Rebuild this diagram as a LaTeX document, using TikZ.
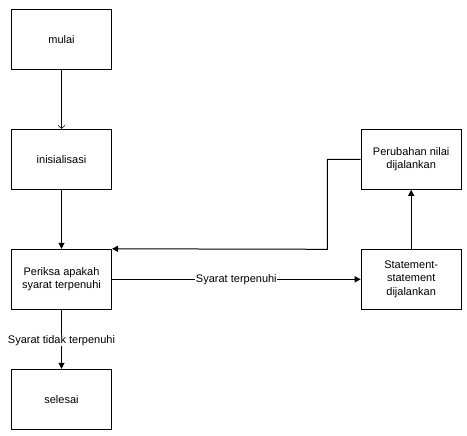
\documentclass[tikz,border=0pt]{standalone}
\usepackage{fontspec}
\setmainfont{Liberation Sans}
\usetikzlibrary{arrows.meta}
\begin{document}
\begin{tikzpicture}[x=1pt,y=-1pt,
  box/.style={draw,line width=1pt,minimum width=100pt,minimum height=60pt,align=center,inner sep=0pt,font=\fontsize{11}{13.5}\selectfont},
  conn/.style={line width=1pt},
  fa/.style={-{Triangle[length=6pt,width=6pt]}},
  oa/.style={-{Straight Barb[length=3pt,width=7pt,line width=0.6pt]}},
  lbl/.style={font=\fontsize{11}{13.5}\selectfont,fill=white,inner sep=0.5pt}]
\useasboundingbox (0,0) rectangle (467,436);
\node[box] (mulai) at (61.5,39.3) {mulai};
\node[box] (init) at (61.5,159.3) {inisialisasi};
\node[box] (cek) at (61.5,279.3) {Periksa apakah\\syarat terpenuhi};
\node[box] (selesai) at (61.5,399.3) {selesai};
\node[box] (ubah) at (411.2,159.3) {Perubahan nilai\\dijalankan};
\node[box] (stmt) at (411.2,279.3) {Statement-\\statement\\dijalankan};
\coordinate (k1) at (327.3,159.3);
\coordinate (k2) at (327.3,249.3);
\draw[conn,oa] (mulai) -- (init);
\draw[conn,fa] (init) -- (cek);
\draw[conn,fa] (cek) -- node[lbl]{Syarat terpenuhi} (stmt);
\draw[conn,fa] (cek) -- node[lbl,pos=0.52]{Syarat tidak terpenuhi} (selesai);
\draw[conn,fa] (stmt) -- (ubah);
\draw[conn,fa] (ubah.west) -- (k1) -- (k2) -- (cek.north east);
\end{tikzpicture}
\end{document}
